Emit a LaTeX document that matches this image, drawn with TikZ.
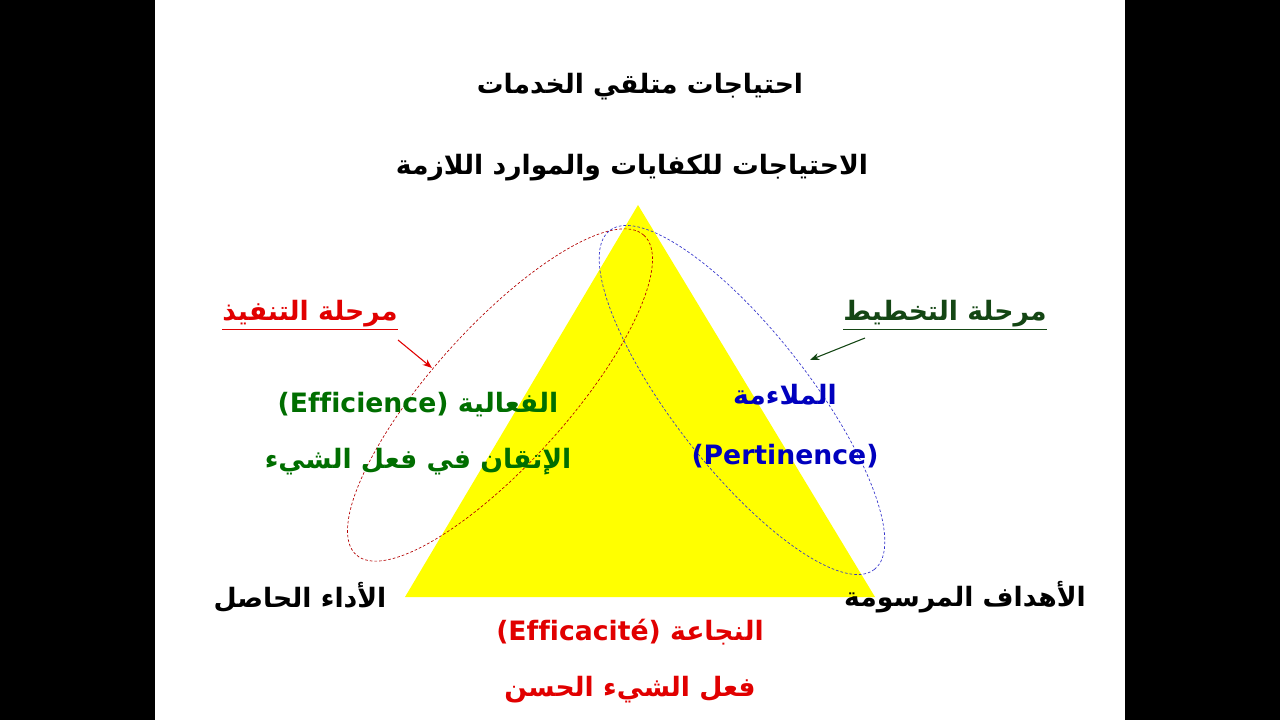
\documentclass[tikz,border=0pt]{standalone}
\usepackage{fontspec}
\TeXXeTstate=1
\newfontfamily\arabicfont[Script=Arabic]{DejaVu Sans}
\usetikzlibrary{arrows.meta}
\definecolor{dgreen}{RGB}{0,110,0}
\definecolor{dkgreen}{RGB}{20,70,20}
\definecolor{dblue}{RGB}{0,0,190}
\definecolor{dred}{RGB}{225,0,0}
\definecolor{tyellow}{RGB}{255,255,0}
\begin{document}
\begin{tikzpicture}[x=0.75pt,y=-0.75pt,
  lab/.style={font=\arabicfont\bfseries\fontsize{20}{24}\selectfont,inner sep=1pt},
  ell/.style={line width=0.5pt,dash pattern=on 2pt off 1.5pt}]
\fill[black] (0,0) rectangle (1280,720);
\fill[white] (155,0) rectangle (1125,720);
\coordinate (A) at (638,205);
\coordinate (B) at (405,597);
\coordinate (C) at (875,597);
\fill[tyellow] (A) -- (B) -- (C) -- cycle;
\draw[ell,dred!80!black,rotate around={48:(500,395)}] (500,395) ellipse [x radius=215,y radius=68];
\draw[ell,blue!60!gray,rotate around={-52:(742,400)}] (742,400) ellipse [x radius=215,y radius=68];
\node[lab] (t1) at (640,87) {\beginR احتياجات متلقي الخدمات\endR};
\node[lab] (t2) at (632,168) {\beginR الاحتياجات للكفايات والموارد اللازمة\endR};
\node[lab,text=dred] (ph1) at (310,315) {\underline{\beginR مرحلة التنفيذ\endR}};
\node[lab,text=dkgreen] (ph2) at (945,315) {\underline{\beginR مرحلة التخطيط\endR}};
\coordinate (e1) at (432,368);
\coordinate (e2) at (810,360);
\draw[-{Stealth[length=7pt]},dred,line width=0.8pt] (398,340) -- (e1);
\draw[-{Stealth[length=7pt]},dkgreen,line width=0.8pt] (865,338) -- (e2);
\node[lab,text=dgreen] (f1) at (418,405) {\beginR الفعالية (\beginL Efficience\endL)\endR};
\node[lab,text=dgreen] (f2) at (418,462) {\beginR الإتقان في فعل الشيء\endR};
\node[lab,text=dblue] (m1) at (785,395) {\beginR الملاءمة\endR};
\node[lab,text=dblue] (m2) at (785,456) {(Pertinence)};
\node[lab] (b1) at (300,597) {\beginR الأداء الحاصل\endR};
\node[lab] (b2) at (965,597) {\beginR الأهداف المرسومة\endR};
\node[lab,text=dred] (n1) at (630,632) {\beginR النجاعة (\beginL Efficacité\endL)\endR};
\node[lab,text=dred] (n2) at (630,690) {\beginR فعل الشيء الحسن\endR};
\end{tikzpicture}
\end{document}
